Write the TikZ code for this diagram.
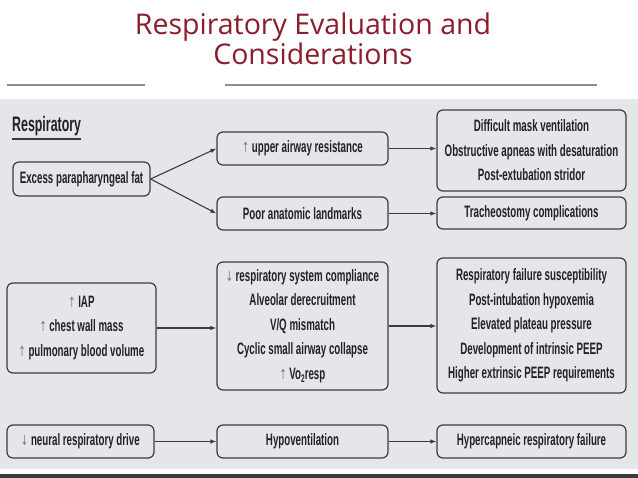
\documentclass[tikz,border=0pt]{standalone}
\usepackage{fontspec}
\usetikzlibrary{arrows.meta}
\setmainfont{Liberation Sans}
\newfontfamily\boxfont{Liberation Sans}[FakeStretch=0.59]
\newfontfamily\titlefont{Open Sans}
\newfontfamily\symfont{DejaVu Sans}[FakeStretch=0.6]
\definecolor{panel}{HTML}{E4E6E9}
\definecolor{edge}{HTML}{3C3C3C}
\definecolor{ttl}{HTML}{8B1C2C}
\definecolor{txt}{HTML}{222222}
\definecolor{rulec}{HTML}{8C8C8C}
\definecolor{symc}{HTML}{7A7A7A}
\newcommand{\uparr}{{\symfont\mdseries\color{symc}\fontsize{14}{14}\selectfont ↑}\,}
\newcommand{\dnarr}{{\symfont\mdseries\color{symc}\fontsize{14}{14}\selectfont ↓}\,}
\tikzset{
  box/.style={draw=edge, line width=1.2pt, rounded corners=6pt, fill=panel,
    align=center, inner sep=0pt, text=txt,
    font=\boxfont\bfseries\fontsize{16.5}{24.5}\selectfont},
  conn/.style={draw=edge, line width=1.1pt, -{Latex[length=6pt,width=4.5pt]}},
  titletext/.style={anchor=base, text=ttl, inner sep=0pt,
    font=\titlefont\fontsize{28.5}{34}\selectfont},
  rule/.style={draw=rulec, line width=1.4pt}
}
\begin{document}
\begin{tikzpicture}[x=1pt,y=-1pt]
\useasboundingbox (0,0) rectangle (638,478);
\fill[white] (0,0) rectangle (638,478);
% title
\node[titletext] (t1) at (313,35) {Respiratory Evaluation and};
\node[titletext] (t2) at (313,65) {Considerations};
\draw[rule] (7,85) -- (145,85);
\draw[rule] (225,85) -- (597,85);
% panel
\fill[panel] (0,99) rectangle (638,469);
\fill[edge] (0,474) rectangle (638,478);
% header
\node[anchor=base west, inner sep=0pt, text=txt,
  font=\boxfont\bfseries\fontsize{21}{21}\selectfont] (hdr) at (12,131.5) {Respiratory};
\draw[edge, line width=1.4pt] ([yshift=-7.5pt]hdr.base west) -- ([yshift=-7.5pt]hdr.base east);
% row 1
\node[box, minimum width=137pt, minimum height=34pt] (A) at (81.5,179) {Excess parapharyngeal fat};
\node[box, minimum width=171pt, minimum height=33pt] (B) at (302.5,148.5) {\uparr upper airway resistance};
\node[box, minimum width=171pt, minimum height=33pt] (C) at (302.5,213.5) {Poor anatomic landmarks};
\node[box, minimum width=189pt, minimum height=81pt] (D) at (531.5,150.5) {Difficult mask ventilation\\Obstructive apneas with desaturation\\Post-extubation stridor};
\node[box, minimum width=189pt, minimum height=32pt] (E) at (531.5,213) {Tracheostomy complications};
% row 2
\node[box, minimum width=149pt, minimum height=90pt] (F) at (81.5,328) {\uparr IAP\\\uparr chest wall mass\\\uparr pulmonary blood volume};
\node[box, minimum width=171pt, minimum height=128pt] (G) at (302.5,326) {\dnarr respiratory system compliance\\Alveolar derecruitment\\V/Q mismatch\\Cyclic small airway collapse\\\uparr Vo\raisebox{-0.35ex}{\fontsize{11}{11}\selectfont 2}resp};
\node[box, minimum width=189pt, minimum height=135pt] (H) at (531.5,325.5) {Respiratory failure susceptibility\\Post-intubation hypoxemia\\Elevated plateau pressure\\Development of intrinsic PEEP\\Higher extrinsic PEEP requirements};
% row 3
\node[box, minimum width=147pt, minimum height=33pt] (I) at (80.5,441.5) {\dnarr neural respiratory drive};
\node[box, minimum width=171pt, minimum height=33pt] (J) at (302.5,441.5) {Hypoventilation};
\node[box, minimum width=189pt, minimum height=33pt] (K) at (531.5,441.5) {Hypercapneic respiratory failure};
% connectors
\draw[conn] (A.east) -- (B.west);
\draw[conn] (A.east) -- (C.west);
\draw[conn] (B.east) -- (B.east -| D.west);
\draw[conn] (C.east) -- (C.east -| E.west);
\draw[conn] (F.east) -- (F.east -| G.west);
\draw[conn] (G.east) -- (G.east -| H.west);
\draw[conn] (I.east) -- (I.east -| J.west);
\draw[conn] (J.east) -- (K.west);
\end{tikzpicture}
\end{document}
